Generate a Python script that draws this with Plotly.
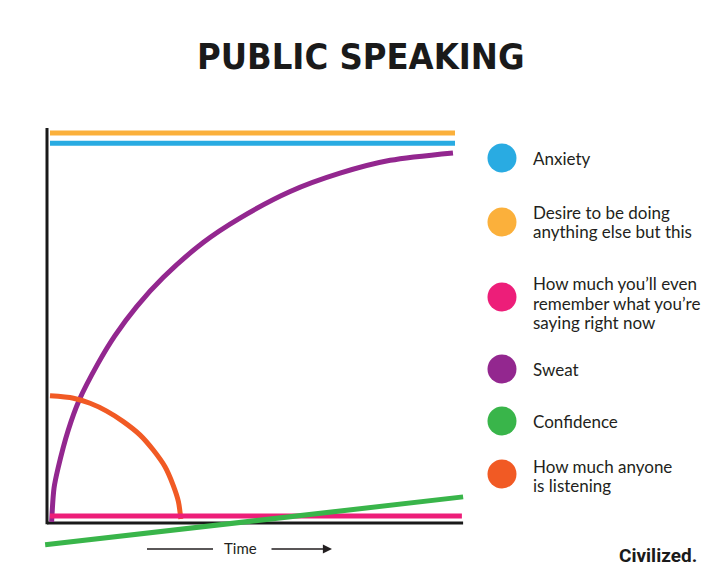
import plotly.graph_objects as go

# ---- data (time units 0..10, level units 0..10) ----
flat_time = [0, 10]
desire = [10.0, 10.0]
anxiety = [9.74, 9.74]

remember_time = [0, 10.17]
remember = [0.18, 0.18]

confidence_time = [-0.12, 10.2]
confidence = [-0.56, 0.67]

sweat_time = [0.04, 0.10, 0.20, 0.45, 0.72, 1.19, 1.60, 2.14, 2.80, 3.79, 4.69, 5.93, 7.16, 8.40, 9.95]
sweat = [0.03, 0.90, 1.41, 2.38, 3.15, 4.10, 4.80, 5.55, 6.30, 7.20, 7.82, 8.50, 8.97, 9.30, 9.49]

listening_time = [0.0, 0.58, 0.99, 1.40, 1.81, 2.22, 2.55, 2.84, 3.04, 3.17, 3.23]
listening = [3.26, 3.20, 3.07, 2.87, 2.60, 2.26, 1.87, 1.44, 0.97, 0.55, 0.10]

legend_labels = [
    ["Anxiety"],
    ["Desire to be doing", "anything else but this"],
    ["How much you\u2019ll even", "remember what you\u2019re", "saying right now"],
    ["Sweat"],
    ["Confidence"],
    ["How much anyone", "is listening"],
]
legend_colors = ["#29ABE2", "#FBB03B", "#ED1E79", "#93278F", "#39B54A", "#F15A24"]
legend_y = [158, 222, 297, 369, 421, 474]      # screen rows of legend dots
legend_text_y = [158, 222, 303, 369, 421, 476]  # screen rows of label block centres

title_text = "PUBLIC SPEAKING"
x_label = "Time"
brand = "Civilized."

W, H = 720, 576
LW = 5
BODY = 8  # page body margin of the html page

# plot area in screen pixels: x 20..500, y 90..565
L_SCR, T_SCR, PW, PH = 20, 90, 480, 475

fig = go.Figure()
fig.add_trace(go.Scatter(x=sweat_time, y=sweat, mode="lines", line=dict(color="#93278F", width=LW, shape="spline", smoothing=0.8), name="Sweat"))
fig.add_trace(go.Scatter(x=listening_time, y=listening, mode="lines", line=dict(color="#F15A24", width=LW, shape="spline", smoothing=0.8), name="Listening"))
fig.add_trace(go.Scatter(x=flat_time, y=desire, mode="lines", line=dict(color="#FBB03B", width=LW), name="Desire"))
fig.add_trace(go.Scatter(x=flat_time, y=anxiety, mode="lines", line=dict(color="#29ABE2", width=LW), name="Anxiety"))
fig.add_trace(go.Scatter(x=remember_time, y=remember, mode="lines", line=dict(color="#ED1E79", width=LW), name="Remember"))
fig.add_trace(go.Scatter(x=confidence_time, y=confidence, mode="lines", line=dict(color="#39B54A", width=LW), name="Confidence"))

# axes drawn as lines in data coordinates
axis_col = "#1A1A1A"
fig.add_shape(type="line", xref="x", yref="y", x0=-0.074, x1=-0.074, y0=-0.03, y1=10.13,
              line=dict(color=axis_col, width=3), layer="below")
fig.add_shape(type="line", xref="x", yref="y", x0=-0.074, x1=10.2, y0=0, y1=0,
              line=dict(color=axis_col, width=3), layer="below")

# screen pixel -> paper (paper spans the plot area)
def px(xp):
    return (xp - L_SCR) / PW

def py(yp):
    return (T_SCR + PH - yp) / PH

r = 14.5
line_gap = 19.5
for lines, col, yc, yt in zip(legend_labels, legend_colors, legend_y, legend_text_y):
    fig.add_shape(type="circle", xref="paper", yref="paper",
                  x0=px(502 - r), x1=px(502 + r), y0=py(yc + r), y1=py(yc - r),
                  fillcolor=col, line=dict(width=0))
    n = len(lines)
    for i, ln in enumerate(lines):
        yy = yt + (i - (n - 1) / 2) * line_gap
        fig.add_annotation(xref="paper", yref="paper", x=px(531), y=py(yy), text=ln,
                           showarrow=False, xanchor="left", yanchor="middle", align="left",
                           font=dict(family="Lato", size=17, color="#231F20"))

# title
fig.add_annotation(xref="paper", yref="paper", x=px(361), y=py(56), text="<b>" + title_text + "</b>",
                   showarrow=False, xanchor="center", yanchor="middle",
                   font=dict(family="DejaVu Sans Condensed, sans-serif", size=36, color="#1A1A1A"))

# time label with arrow
fig.add_annotation(xref="paper", yref="paper", x=px(240), y=py(548), text=x_label,
                   showarrow=False, xanchor="center", yanchor="middle",
                   font=dict(family="Lato", size=15, color="#231F20"))
fig.add_shape(type="line", xref="paper", yref="paper", x0=px(147), x1=px(213), y0=py(549), y1=py(549),
              line=dict(color="#231F20", width=1.3))
fig.add_annotation(xref="paper", yref="paper", x=px(332), y=py(549), ax=-62, ay=0,
                   text="", showarrow=True,
                   arrowhead=2, arrowsize=1.4, arrowwidth=1.3, arrowcolor="#231F20")

# brand
fig.add_annotation(xref="paper", yref="paper", x=px(699), y=py(555), text="<b>" + brand + "</b>",
                   showarrow=False, xanchor="right", yanchor="middle",
                   font=dict(family="Roboto", size=19, color="#1A1A1A"))

fig.update_layout(
    width=W, height=H, autosize=False,
    margin=dict(l=L_SCR - BODY, r=W - (L_SCR - BODY) - PW, t=T_SCR - BODY, b=H - (T_SCR - BODY) - PH, pad=0),
    paper_bgcolor="white", plot_bgcolor="white",
    showlegend=False,
    xaxis=dict(range=[-0.7407, 11.111], visible=False, fixedrange=True),
    yaxis=dict(range=[-1.077, 11.103], visible=False, fixedrange=True),
)

fig.write_html("out.html", config={"displayModeBar": False})
